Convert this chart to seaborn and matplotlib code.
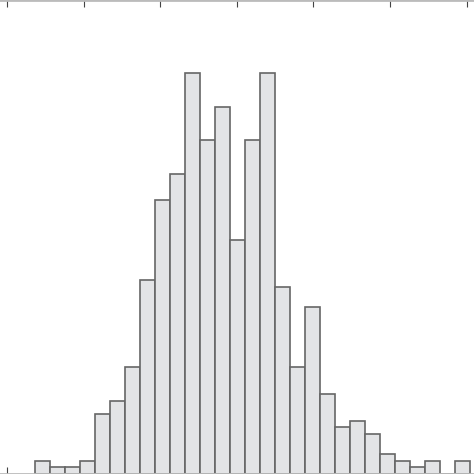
import numpy as np
import pandas as pd
import matplotlib
matplotlib.use("Agg")
import matplotlib.pyplot as plt
import seaborn as sns

counts = [2, 1, 1, 2, 9, 11, 16, 29, 41, 45, 60, 50, 55, 35, 50, 60, 28, 16, 25, 12, 7, 8, 6, 3, 2, 1, 2, 0, 2]
start = 0.366
width = 0.196
edges = start + width * np.arange(len(counts) + 1)
centers = (edges[:-1] + edges[1:]) / 2
df = pd.DataFrame({"x": centers, "w": counts})

sns.set_style("white")
fig = plt.figure(figsize=(4.74, 4.74), dpi=100)
ax = fig.add_axes([0, 0, 1, 1])
sns.histplot(data=df, x="x", weights="w", bins=list(edges), ax=ax, color="#e3e4e6",
             edgecolor="#666666", linewidth=1.2, alpha=1)
ax.set_xlim(-0.0914, 6.097)
ax.set_ylim(0, 71)
ax.set_xticks(range(0, 7))
ax.set_yticks([])
ax.tick_params(axis="x", direction="in", top=True, bottom=True, length=5,
               color="#444444", labelbottom=False, labeltop=False)
for s in ["left", "right"]:
    ax.spines[s].set_visible(False)
for s in ["top", "bottom"]:
    ax.spines[s].set_color("#bbbbbb")
    ax.spines[s].set_linewidth(2)
ax.set_xlabel("")
ax.set_ylabel("")
fig.savefig("out.png", dpi=100)
